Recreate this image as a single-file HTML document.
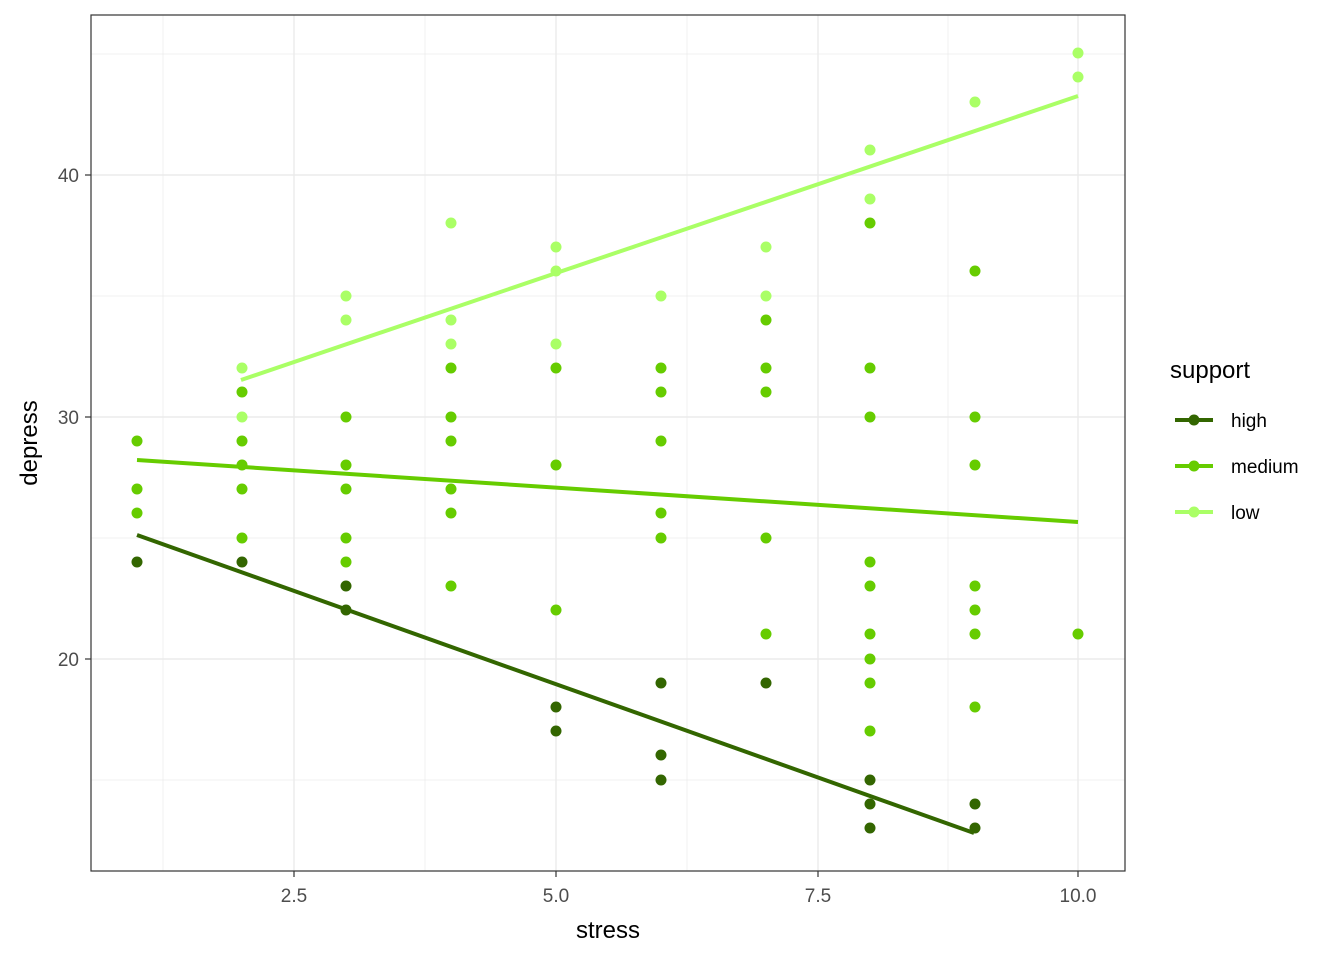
<!DOCTYPE html>
<html><head><meta charset="utf-8"><style>body{margin:0;background:#fff}svg{display:block}text{font-family:"Liberation Sans",sans-serif}</style></head><body>
<svg width="1344" height="960" viewBox="0 0 1344 960" xmlns="http://www.w3.org/2000/svg">
<rect width="1344" height="960" fill="#fff"/>
<g stroke="#ebebeb" stroke-width="0.7">
<line x1="163" y1="15" x2="163" y2="871"/><line x1="425" y1="15" x2="425" y2="871"/><line x1="687" y1="15" x2="687" y2="871"/><line x1="948" y1="15" x2="948" y2="871"/>
<line x1="91" y1="54" x2="1125" y2="54"/><line x1="91" y1="296" x2="1125" y2="296"/><line x1="91" y1="538" x2="1125" y2="538"/><line x1="91" y1="780" x2="1125" y2="780"/>
</g>
<g stroke="#ebebeb" stroke-width="1.4">
<line x1="294" y1="15" x2="294" y2="871"/><line x1="556" y1="15" x2="556" y2="871"/><line x1="818" y1="15" x2="818" y2="871"/><line x1="1078" y1="15" x2="1078" y2="871"/>
<line x1="91" y1="175" x2="1125" y2="175"/><line x1="91" y1="417" x2="1125" y2="417"/><line x1="91" y1="659" x2="1125" y2="659"/>
</g>
<g fill="#336600">
<circle cx="137" cy="562" r="5.5"/>
<circle cx="242" cy="562" r="5.5"/>
<circle cx="346" cy="586" r="5.5"/><circle cx="346" cy="610" r="5.5"/>
<circle cx="556" cy="707" r="5.5"/><circle cx="556" cy="731" r="5.5"/>
<circle cx="661" cy="683" r="5.5"/><circle cx="661" cy="755" r="5.5"/><circle cx="661" cy="780" r="5.5"/>
<circle cx="766" cy="683" r="5.5"/>
<circle cx="870" cy="780" r="5.5"/><circle cx="870" cy="804" r="5.5"/><circle cx="870" cy="828" r="5.5"/>
<circle cx="975" cy="804" r="5.5"/><circle cx="975" cy="828" r="5.5"/>
</g>
<g fill="#66cc00">
<circle cx="137" cy="441" r="5.5"/><circle cx="137" cy="489" r="5.5"/><circle cx="137" cy="513" r="5.5"/>
<circle cx="242" cy="392" r="5.5"/><circle cx="242" cy="441" r="5.5"/><circle cx="242" cy="465" r="5.5"/><circle cx="242" cy="489" r="5.5"/><circle cx="242" cy="538" r="5.5"/>
<circle cx="346" cy="417" r="5.5"/><circle cx="346" cy="465" r="5.5"/><circle cx="346" cy="489" r="5.5"/><circle cx="346" cy="538" r="5.5"/><circle cx="346" cy="562" r="5.5"/>
<circle cx="451" cy="368" r="5.5"/><circle cx="451" cy="417" r="5.5"/><circle cx="451" cy="441" r="5.5"/><circle cx="451" cy="489" r="5.5"/><circle cx="451" cy="513" r="5.5"/><circle cx="451" cy="586" r="5.5"/>
<circle cx="556" cy="368" r="5.5"/><circle cx="556" cy="465" r="5.5"/><circle cx="556" cy="610" r="5.5"/>
<circle cx="661" cy="368" r="5.5"/><circle cx="661" cy="392" r="5.5"/><circle cx="661" cy="441" r="5.5"/><circle cx="661" cy="513" r="5.5"/><circle cx="661" cy="538" r="5.5"/>
<circle cx="766" cy="320" r="5.5"/><circle cx="766" cy="368" r="5.5"/><circle cx="766" cy="392" r="5.5"/><circle cx="766" cy="538" r="5.5"/><circle cx="766" cy="634" r="5.5"/>
<circle cx="870" cy="223" r="5.5"/><circle cx="870" cy="368" r="5.5"/><circle cx="870" cy="417" r="5.5"/><circle cx="870" cy="562" r="5.5"/><circle cx="870" cy="586" r="5.5"/><circle cx="870" cy="634" r="5.5"/><circle cx="870" cy="659" r="5.5"/><circle cx="870" cy="683" r="5.5"/><circle cx="870" cy="731" r="5.5"/>
<circle cx="975" cy="271" r="5.5"/><circle cx="975" cy="417" r="5.5"/><circle cx="975" cy="465" r="5.5"/><circle cx="975" cy="586" r="5.5"/><circle cx="975" cy="610" r="5.5"/><circle cx="975" cy="634" r="5.5"/><circle cx="975" cy="707" r="5.5"/>
<circle cx="1078" cy="634" r="5.5"/>
</g>
<g fill="#aaff66">
<circle cx="242" cy="368" r="5.5"/><circle cx="242" cy="417" r="5.5"/>
<circle cx="346" cy="296" r="5.5"/><circle cx="346" cy="320" r="5.5"/>
<circle cx="451" cy="223" r="5.5"/><circle cx="451" cy="320" r="5.5"/><circle cx="451" cy="344" r="5.5"/>
<circle cx="556" cy="247" r="5.5"/><circle cx="556" cy="271" r="5.5"/><circle cx="556" cy="344" r="5.5"/>
<circle cx="661" cy="296" r="5.5"/>
<circle cx="766" cy="247" r="5.5"/><circle cx="766" cy="296" r="5.5"/>
<circle cx="870" cy="150" r="5.5"/><circle cx="870" cy="199" r="5.5"/>
<circle cx="975" cy="102" r="5.5"/>
<circle cx="1078" cy="53" r="5.5"/><circle cx="1078" cy="77" r="5.5"/>
</g>
<line x1="137" y1="535" x2="974" y2="833" stroke="#336600" stroke-width="4"/>
<line x1="137" y1="460" x2="1078" y2="522" stroke="#66cc00" stroke-width="4"/>
<line x1="241" y1="380" x2="1078" y2="96" stroke="#aaff66" stroke-width="4"/>
<rect x="91" y="15" width="1034" height="856" fill="none" stroke="#333" stroke-width="1.2"/>
<g stroke="#333" stroke-width="1.2">
<line x1="294" y1="871" x2="294" y2="877"/><line x1="556" y1="871" x2="556" y2="877"/><line x1="818" y1="871" x2="818" y2="877"/><line x1="1078" y1="871" x2="1078" y2="877"/>
<line x1="85" y1="175" x2="91" y2="175"/><line x1="85" y1="417" x2="91" y2="417"/><line x1="85" y1="659" x2="91" y2="659"/>
</g>
<g fill="#4d4d4d" font-size="19">
<text x="294" y="902" text-anchor="middle">2.5</text><text x="556" y="902" text-anchor="middle">5.0</text><text x="818" y="902" text-anchor="middle">7.5</text><text x="1078" y="902" text-anchor="middle">10.0</text>
<text x="79" y="182" text-anchor="end">40</text><text x="79" y="424" text-anchor="end">30</text><text x="79" y="666" text-anchor="end">20</text>
</g>
<text x="608" y="938" text-anchor="middle" font-size="24">stress</text>
<text transform="translate(37,443) rotate(-90)" text-anchor="middle" font-size="24">depress</text>
<text x="1170" y="378" font-size="24">support</text>
<g stroke-width="4">
<line x1="1175" y1="420" x2="1213" y2="420" stroke="#336600"/><circle cx="1194" cy="420" r="5.5" fill="#336600" stroke="none"/>
<line x1="1175" y1="466" x2="1213" y2="466" stroke="#66cc00"/><circle cx="1194" cy="466" r="5.5" fill="#66cc00" stroke="none"/>
<line x1="1175" y1="512" x2="1213" y2="512" stroke="#aaff66"/><circle cx="1194" cy="512" r="5.5" fill="#aaff66" stroke="none"/>
</g>
<g font-size="19">
<text x="1231" y="427">high</text><text x="1231" y="473">medium</text><text x="1231" y="519">low</text>
</g>
</svg>
</body></html>
